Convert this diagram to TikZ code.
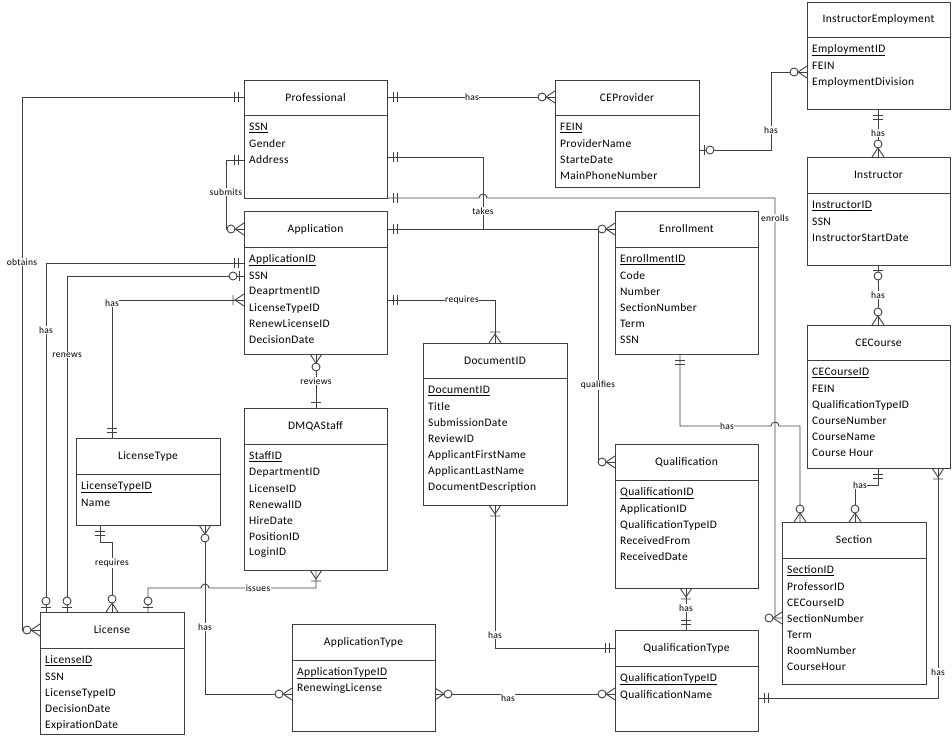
\documentclass[tikz,border=0pt]{standalone}
\usepackage{fontspec}
\setmainfont{Carlito}[LetterSpace=3]
\begin{document}
\begin{tikzpicture}[x=1pt,y=-1pt,
  conn/.style={draw=black!75,line width=0.9pt},
  lbl/.style={fill=white,inner sep=0.5pt,font=\fontsize{9.5}{10}\selectfont},
  box/.style={draw=black!75,line width=0.9pt,fill=white,inner sep=0pt,anchor=north west},
  attr/.style={anchor=west,inner sep=0pt,font=\fontsize{11.5}{12}\selectfont},
  ttl/.style={inner sep=0pt,font=\fontsize{11.5}{12}\selectfont},
  sym/.style={draw=black!75,line width=0.9pt},
  mandone/.pic={\draw[sym] (6,-5)--(6,5) (10,-5)--(10,5);},
  one/.pic={\draw[sym] (6,-5)--(6,5);},
  zmany/.pic={\draw[sym] (0,-6)--(9,0)--(0,6); \draw[sym,fill=white] (13,0) circle (4);},
  onemany/.pic={\draw[sym] (0,-6)--(9,0)--(0,6) (11,-5)--(11,5);},
  zone/.pic={\draw[sym] (5,-5)--(5,5); \draw[sym,fill=white] (11,0) circle (4);}
]
\useasboundingbox (0,0) rectangle (952,740);
\newcommand\ent[8]{%
  \node[box,minimum width={(#4-#2)*1pt},minimum height={(#5-#3)*1pt}] (#1) at (#2,#3) {};
  \draw[black!75,line width=0.9pt] (#2,#6) -- (#4,#6);
  \node[ttl] at ({(#2+#4)/2},{(#3+#6)/2}) {#7};
  \foreach \a [count=\i] in {#8} \node[attr] at (#2+5,{#6+13+(\i-1)*16}) {\a};
}
% connectors
\draw[conn] (244,97)--(22,97)--(22,630)--(40,630);
\node[lbl] at (22,262) {obtains};
\draw[conn] (387,97)--(555,97); \node[lbl] at (472,97) {has};
\draw[conn] (699,150)--(771,150)--(771,72)--(807,72); \node[lbl] at (771,130) {has};
\draw[conn] (878,109)--(878,157); \node[lbl] at (878,133) {has};
\draw[conn] (878,265)--(878,325); \node[lbl] at (878,295) {has};
\draw[conn] (244,160)--(226,160)--(226,229)--(244,229); \node[lbl] at (226,192) {submits};
\draw[conn] (387,157)--(483,157)--(483,229)--(615,229);
\draw[conn] (387,229)--(615,229); \node[lbl] at (483,211) {takes};
\draw[conn] (387,198)--(479,198) arc(180:360:4) --(775,198)--(775,618)--(782,618);
\node[lbl] at (775,218) {enrolls};
\draw[conn] (598,229)--(598,462)--(615,462); \node[lbl] at (598,385) {qualifies};
\draw[conn] (387,300)--(495,300)--(495,343); \node[lbl] at (462,300) {requires};
\draw[conn] (316,354)--(316,408); \node[lbl] at (316,381) {reviews};
\draw[conn] (244,263)--(46,263)--(46,612); \node[lbl] at (46,330) {has};
\draw[conn] (244,276)--(67,276)--(67,612); \node[lbl] at (67,355) {renews};
\draw[conn] (244,300)--(112,300)--(112,438); \node[lbl] at (112,303) {has};
\draw[conn] (100,525)--(100,542)--(112,542)--(112,612); \node[lbl] at (112,563) {requires};
\draw[conn] (205,525)--(205,694)--(292,694); \node[lbl] at (205,627) {has};
\draw[conn] (316,570)--(316,588)--(209,588) arc(0:-180:4) --(148,588)--(148,612);
\node[lbl] at (258,588) {issues};
\draw[conn] (495,505)--(495,648)--(615,648); \node[lbl] at (495,635) {has};
\draw[conn] (435,694)--(615,694); \node[lbl] at (508,698) {has};
\draw[conn] (680,354)--(680,426)--(771,426) arc(180:360:4) --(800,426)--(800,522);
\node[lbl] at (727,426) {has};
\draw[conn] (878,468)--(878,485)--(855,485)--(855,522); \node[lbl] at (860,485) {has};
\draw[conn] (938,468)--(938,698)--(758,698); \node[lbl] at (938,672) {has};
\draw[conn] (686,588)--(686,630); \node[lbl] at (686,608) {has};
% entities
\ent{prof}{244}{80}{387}{198}{115}{Professional}{\underline{SSN},Gender,Address}
\ent{cep}{555}{80}{699}{187}{115}{CEProvider}{\underline{FEIN},ProviderName,StarteDate,MainPhoneNumber}
\ent{iemp}{807}{2}{950}{109}{37}{InstructorEmployment}{\underline{EmploymentID},FEIN,EmploymentDivision}
\ent{instr}{807}{157}{950}{265}{193}{Instructor}{\underline{InstructorID},SSN,InstructorStartDate}
\ent{app}{244}{211}{387}{354}{247}{Application}{\underline{ApplicationID},SSN,DeaprtmentID,LicenseTypeID,RenewLicenseID,DecisionDate}
\ent{enr}{615}{211}{758}{354}{247}{Enrollment}{\underline{EnrollmentID},Code,Number,SectionNumber,Term,SSN}
\ent{doc}{423}{343}{567}{505}{378}{DocumentID}{\underline{DocumentID},Title,SubmissionDate,ReviewID,ApplicantFirstName,ApplicantLastName,DocumentDescription}
\ent{cec}{807}{325}{950}{468}{360}{CECourse}{\underline{CECourseID},FEIN,QualificationTypeID,CourseNumber,CourseName,Course Hour}
\ent{dmqa}{244}{408}{387}{570}{444}{DMQAStaff}{\underline{StaffID},DepartmentID,LicenseID,RenewalID,HireDate,PositionID,LoginID}
\ent{ltype}{76}{438}{220}{525}{474}{LicenseType}{\underline{LicenseTypeID},Name}
\ent{qual}{615}{444}{758}{588}{480}{Qualification}{\underline{QualificationID},ApplicationID,QualificationTypeID,ReceivedFrom,ReceivedDate}
\ent{sect}{782}{522}{926}{684}{558}{Section}{\underline{SectionID},ProfessorID,CECourseID,SectionNumber,Term,RoomNumber,CourseHour}
\ent{lic}{40}{612}{184}{734}{648}{License}{\underline{LicenseID},SSN,LicenseTypeID,DecisionDate,ExpirationDate}
\ent{atype}{292}{624}{435}{731}{660}{ApplicationType}{\underline{ApplicationTypeID},RenewingLicense}
\ent{qtype}{615}{630}{758}{731}{666}{QualificationType}{\underline{QualificationTypeID},QualificationName}
% end symbols
\pic[rotate=180] at (244,97) {mandone}; \pic[rotate=180] at (40,630) {zmany};
\pic at (387,97) {mandone}; \pic[rotate=180] at (555,97) {zmany};
\pic at (699,150) {zone}; \pic[rotate=180] at (807,72) {zmany};
\pic[rotate=-90] at (878,109) {mandone}; \pic[rotate=90] at (878,157) {zmany};
\pic[rotate=-90] at (878,265) {zone}; \pic[rotate=90] at (878,325) {zmany};
\pic[rotate=180] at (244,160) {mandone}; \pic[rotate=180] at (244,229) {zmany};
\pic at (387,157) {mandone}; \pic at (387,229) {mandone}; \pic[rotate=180] at (615,229) {zmany};
\pic at (387,198) {mandone}; \pic[rotate=180] at (782,618) {zmany};
\pic[rotate=180] at (615,462) {zmany};
\pic at (387,300) {mandone}; \pic[rotate=90] at (495,343) {onemany};
\pic[rotate=-90] at (316,354) {zmany}; \pic[rotate=90] at (316,408) {one};
\pic[rotate=180] at (244,263) {mandone}; \pic[rotate=90] at (46,612) {zone};
\pic[rotate=180] at (244,276) {zone}; \pic[rotate=90] at (67,612) {zone};
\pic[rotate=180] at (244,300) {onemany}; \pic[rotate=90] at (112,438) {mandone};
\pic[rotate=-90] at (100,525) {mandone}; \pic[rotate=90] at (112,612) {zmany};
\pic[rotate=-90] at (205,525) {zmany}; \pic[rotate=180] at (292,694) {zmany};
\pic[rotate=-90] at (316,570) {onemany}; \pic[rotate=90] at (148,612) {zone};
\pic[rotate=-90] at (495,505) {onemany}; \pic[rotate=180] at (615,648) {mandone};
\pic at (435,694) {zmany}; \pic[rotate=180] at (615,694) {zmany};
\pic[rotate=-90] at (680,354) {mandone}; \pic[rotate=90] at (800,522) {zmany};
\pic[rotate=-90] at (878,468) {mandone}; \pic[rotate=90] at (855,522) {zmany};
\pic[rotate=-90] at (938,468) {onemany}; \pic at (758,698) {mandone};
\pic[rotate=-90] at (686,588) {onemany}; \pic[rotate=90] at (686,630) {mandone};
\end{tikzpicture}
\end{document}
